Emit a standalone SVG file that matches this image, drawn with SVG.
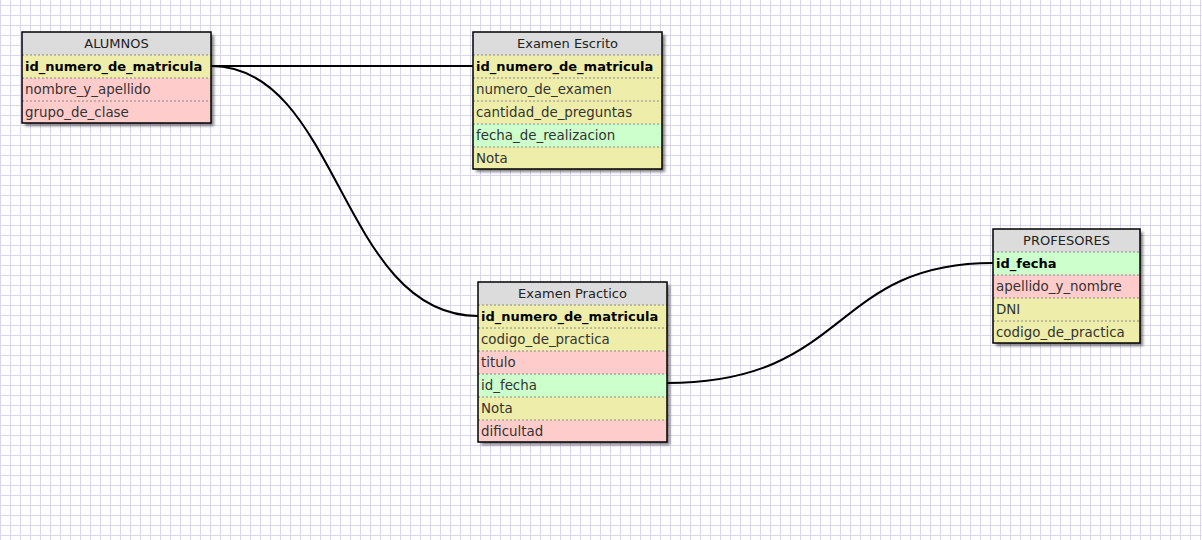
<svg xmlns="http://www.w3.org/2000/svg" width="1202" height="540" viewBox="0 0 1202 540">
<defs>
<pattern id="grid" x="0" y="5" width="10" height="10" patternUnits="userSpaceOnUse">
<path d="M0.5 0V10M0 0.5H10" stroke="#dad6ee" stroke-width="1" fill="none"/>
</pattern>
<filter id="sh" x="-10%" y="-10%" width="130%" height="130%"><feGaussianBlur in="SourceAlpha" stdDeviation="1.5"/><feOffset dx="3" dy="3"/><feComponentTransfer><feFuncA type="linear" slope="0.5"/></feComponentTransfer><feMerge><feMergeNode/><feMergeNode in="SourceGraphic"/></feMerge></filter>
</defs>
<style>
text{font-family:"DejaVu Sans",Verdana,sans-serif;font-size:13.4px;fill:#333}
.h{text-anchor:middle;fill:#222;font-size:13px}
.k{font-weight:bold;fill:#000;font-size:13px}
.hd{fill:#dcdcdc}.y{fill:#eeeeaa}.p{fill:#ffcccc}.g{fill:#ccffcc}
.sep{stroke:#888;stroke-dasharray:2 2;stroke-width:1}
.box{fill:none;stroke:#000;stroke-width:1.5}
.c{fill:none;stroke:#000;stroke-width:2}
</style>
<rect width="1202" height="540" fill="#fff"/>
<rect width="1202" height="540" fill="url(#grid)"/>
<g id="connectors">
<path class="c" d="M211 66H473"/>
<path class="c" d="M211 66C340 66 340 316 478 316"/>
<path class="c" d="M667 383C850 383 830 263 993 263"/>
</g>
<g id="alumnos">
<g filter="url(#sh)"><rect x="22" y="32" width="189" height="91" fill="#fff"/></g>
<rect class="hd" x="22" y="32" width="189" height="23"/>
<rect class="y" x="22" y="55" width="189" height="23"/>
<rect class="p" x="22" y="78" width="189" height="45"/>
<path class="sep" d="M22 55H211M22 78H211M22 101H211"/>
<rect class="box" x="22" y="32" width="189" height="91"/>
<text class="h" x="116.5" y="48">ALUMNOS</text>
<text class="k" x="25" y="71">id_numero_de_matricula</text>
<text x="25" y="94">nombre_y_apellido</text>
<text x="25" y="117">grupo_de_clase</text>
</g>
<g id="examen-escrito">
<g filter="url(#sh)"><rect x="473" y="32" width="189" height="137" fill="#fff"/></g>
<rect class="hd" x="473" y="32" width="189" height="23"/>
<rect class="y" x="473" y="55" width="189" height="69"/>
<rect class="g" x="473" y="124" width="189" height="23"/>
<rect class="y" x="473" y="147" width="189" height="22"/>
<path class="sep" d="M473 55H662M473 78H662M473 101H662M473 124H662M473 147H662"/>
<rect class="box" x="473" y="32" width="189" height="137"/>
<text class="h" x="567.5" y="48">Examen Escrito</text>
<text class="k" x="476" y="71">id_numero_de_matricula</text>
<text x="476" y="94">numero_de_examen</text>
<text x="476" y="117">cantidad_de_preguntas</text>
<text x="476" y="140">fecha_de_realizacion</text>
<text x="476" y="163">Nota</text>
</g>
<g id="examen-practico">
<g filter="url(#sh)"><rect x="478" y="282" width="189" height="160" fill="#fff"/></g>
<rect class="hd" x="478" y="282" width="189" height="23"/>
<rect class="y" x="478" y="305" width="189" height="46"/>
<rect class="p" x="478" y="351" width="189" height="23"/>
<rect class="g" x="478" y="374" width="189" height="23"/>
<rect class="y" x="478" y="397" width="189" height="23"/>
<rect class="p" x="478" y="420" width="189" height="22"/>
<path class="sep" d="M478 305H667M478 328H667M478 351H667M478 374H667M478 397H667M478 420H667"/>
<rect class="box" x="478" y="282" width="189" height="160"/>
<text class="h" x="572.5" y="298">Examen Practico</text>
<text class="k" x="481" y="321">id_numero_de_matricula</text>
<text x="481" y="344">codigo_de_practica</text>
<text x="481" y="367">titulo</text>
<text x="481" y="390">id_fecha</text>
<text x="481" y="413">Nota</text>
<text x="481" y="436">dificultad</text>
</g>
<g id="profesores">
<g filter="url(#sh)"><rect x="993" y="229" width="147" height="114" fill="#fff"/></g>
<rect class="hd" x="993" y="229" width="147" height="23"/>
<rect class="g" x="993" y="252" width="147" height="23"/>
<rect class="p" x="993" y="275" width="147" height="23"/>
<rect class="y" x="993" y="298" width="147" height="45"/>
<path class="sep" d="M993 252H1140M993 275H1140M993 298H1140M993 321H1140"/>
<rect class="box" x="993" y="229" width="147" height="114"/>
<text class="h" x="1066.5" y="245">PROFESORES</text>
<text class="k" x="996" y="268">id_fecha</text>
<text x="996" y="291">apellido_y_nombre</text>
<text x="996" y="314">DNI</text>
<text x="996" y="337">codigo_de_practica</text>
</g>
</svg>
